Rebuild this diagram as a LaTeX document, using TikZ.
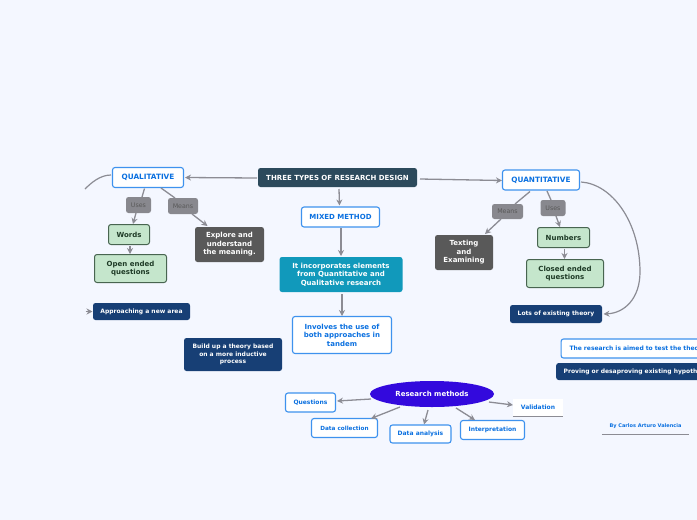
\documentclass[tikz,border=0pt]{standalone}
\usepackage{fontspec}
\setmainfont{DejaVu Sans}
\usetikzlibrary{shapes.geometric,arrows.meta,calc}
\definecolor{bgc}{HTML}{F4F7FF}
\definecolor{titlec}{HTML}{2C4A5C}
\definecolor{bluet}{HTML}{0A70E0}
\definecolor{blueb}{HTML}{3E92EE}
\definecolor{navy}{HTML}{173F75}
\definecolor{tealc}{HTML}{1199BB}
\definecolor{greenf}{HTML}{C5E6CC}
\definecolor{greent}{HTML}{1E3A26}
\definecolor{darkg}{HTML}{595959}
\definecolor{labelg}{HTML}{88888E}
\definecolor{linec}{HTML}{8C8C94}
\definecolor{violetc}{HTML}{3309DD}
\tikzset{
  x=1pt,y=-1pt,
  box/.style={rounded corners=2.5pt,align=center,inner sep=0pt,font=\fontsize{7}{8.5}\selectfont\bfseries,anchor=center},
  small/.style={font=\fontsize{6}{7.5}\selectfont\bfseries},
  whitebox/.style={box,draw=blueb,line width=1.1pt,fill=white,text=bluet},
  navybox/.style={box,small,fill=navy,text=white},
  greenbox/.style={box,fill=greenf,draw=greent!75!greenf,line width=1pt,text=greent},
  greybox/.style={box,fill=darkg,text=white},
  labelbox/.style={rounded corners=2.5pt,align=center,inner sep=0pt,fill=labelg,text=black!65,font=\fontsize{6.3}{7.5}\selectfont},
  conn/.style={draw=linec,line width=1.3pt,-{Stealth[length=6pt,width=6pt]}},
  plainconn/.style={draw=linec,line width=1.3pt},
  thinconn/.style={draw=linec,line width=1.2pt},
}
\begin{document}
\begin{tikzpicture}
\useasboundingbox (0,0) rectangle (697,520);
\fill[bgc] (0,0) rectangle (697,520);

\node[box,fill=titlec,text=white,minimum width=159pt,minimum height=19pt] (title) at (337.5,177.5) {THREE TYPES OF RESEARCH DESIGN};

\node[whitebox,minimum width=71pt,minimum height=20pt,font=\fontsize{7.3}{8.5}\selectfont\bfseries] (qual) at (148,177.5) {QUALITATIVE};
\node[labelbox,minimum width=25pt,minimum height=16pt] (uses1) at (138.5,205) {Uses};
\node[labelbox,minimum width=30pt,minimum height=16pt] (means1) at (183,206) {Means};
\node[greenbox,minimum width=41pt,minimum height=20pt] (words) at (129,234.5) {Words};
\node[greenbox,minimum width=72pt,minimum height=28pt] (open) at (130.5,268.5) {Open ended\\questions};
\node[greybox,minimum width=69pt,minimum height=35pt] (explore) at (229.5,244.5) {Explore and\\understand\\the meaning.};
\node[navybox,minimum width=97pt,minimum height=17pt] (approach) at (141.5,311.5) {Approaching a new area};
\node[navybox,minimum width=98pt,minimum height=33pt] (build) at (233,354.5) {Build up a theory based\\on a more inductive\\process};

\node[whitebox,minimum width=78pt,minimum height=20pt] (mixed) at (340.5,217) {MIXED METHOD};
\node[box,fill=tealc,text=white,minimum width=123pt,minimum height=35pt] (incorp) at (341,274.5) {It incorporates elements\\from Quantitative and\\Qualitative research};
\node[whitebox,minimum width=99pt,minimum height=37pt] (involves) at (342,335) {Involves the use of\\both approaches in\\tandem};

\node[whitebox,minimum width=77pt,minimum height=20pt,font=\fontsize{7.3}{8.5}\selectfont\bfseries] (quant) at (541,180) {QUANTITATIVE};
\node[labelbox,minimum width=31pt,minimum height=15pt] (means2) at (507.5,211.5) {Means};
\node[labelbox,minimum width=25pt,minimum height=16pt] (uses2) at (553,208) {Uses};
\node[greenbox,minimum width=52pt,minimum height=20pt] (numbers) at (563.5,237.5) {Numbers};
\node[greenbox,minimum width=77pt,minimum height=28pt] (closed) at (565,273.5) {Closed ended\\questions};
\node[greybox,minimum width=58pt,minimum height=35pt] (texting) at (464,252.5) {Texting\\and\\Examining};
\node[navybox,minimum width=92pt,minimum height=18pt] (lots) at (556,314) {Lots of existing theory};
\node[whitebox,small,anchor=west,minimum height=19pt,text width=170pt,align=left] (aimed) at (560.5,348.5) {\hspace*{8.5pt}The research is aimed to test the theory};
\node[navybox,anchor=west,minimum height=17pt,text width=170pt,align=left] (proving) at (556,371.5) {\hspace*{7.5pt}Proving or desaproving existing hypothesis};

\node[ellipse,fill=violetc,text=white,minimum width=124pt,minimum height=26pt,inner sep=0pt,font=\fontsize{7}{8}\selectfont\bfseries] (methods) at (432,394) {Research methods};
\node[whitebox,small,minimum width=50pt,minimum height=19pt] (questions) at (310.5,402.5) {Questions};
\node[whitebox,small,minimum width=66pt,minimum height=19pt,font=\fontsize{5.7}{7}\selectfont\bfseries] (collection) at (344.5,428) {Data collection};
\node[whitebox,small,minimum width=61pt,minimum height=18pt] (analysis) at (420.5,434) {Data analysis};
\node[whitebox,small,minimum width=64pt,minimum height=19pt] (interp) at (492.5,430) {Interpretation};
\node[box,small,rounded corners=0pt,fill=white,text=bluet,minimum width=50pt,minimum height=17pt] (validation) at (538,407.5) {Validation};
\draw[thinconn] (validation.south west) -- (validation.south east);
\node[box,rounded corners=0pt,text=bluet,minimum width=87pt,minimum height=16pt,font=\fontsize{5}{6}\selectfont\bfseries] (by) at (645.5,426) {By Carlos Arturo Valencia};
\draw[thinconn] (by.south west) -- (by.south east);

\coordinate (qualfree) at (85,189);
\coordinate (approachfree) at (85.5,311.5);

% connectors
\draw[conn] ($(title.center)+(-80.5,0.5)$) -- ($(qual.center)+(37,0)$);
\draw[conn] ($(title.center)+(82.5,1.5)$) -- ($(quant.center)+(-39,0.5)$);
\draw[conn] ($(title.center)+(1.5,11.5)$) -- ($(mixed.center)+(-1,-11.5)$);
\draw[conn] ($(mixed.center)+(0.5,11)$) -- ($(incorp.center)+(0,-18.5)$);
\draw[conn] ($(incorp.center)+(1,19.5)$) -- ($(involves.center)+(0,-19)$);

\draw[plainconn] ($(qual.center)+(-3.5,11)$) -- ($(uses1.center)+(3.5,-8)$);
\draw[conn] ($(uses1.center)+(-2.5,8)$) -- ($(words.center)+(4,-10.5)$);
\draw[plainconn] ($(qual.center)+(13,10.5)$) -- ($(means1.center)+(-8,-8)$);
\draw[conn] ($(means1.center)+(9,8)$) -- ($(explore.center)+(-22,-18.5)$);
\draw[conn] ($(words.center)+(1,11.5)$) -- ($(open.center)+(-0.5,-14.5)$);
\draw[conn] (approachfree) -- ($(approach.center)+(-49,0)$);
\draw[thinconn] ($(qual.center)+(-37,-2.5)$) .. controls (100,175) and (91,183) .. (qualfree);

\draw[plainconn] ($(quant.center)+(-11,11.5)$) -- ($(means2.center)+(7.5,-7.5)$);
\draw[conn] ($(means2.center)+(-6.5,7.5)$) -- ($(texting.center)+(21,-18.5)$);
\draw[plainconn] ($(quant.center)+(6,11)$) -- ($(uses2.center)+(-2,-8)$);
\draw[conn] ($(uses2.center)+(3,8)$) -- ($(numbers.center)+(-3.5,-10.5)$);
\draw[conn] ($(numbers.center)+(1,11)$) -- ($(closed.center)+(-0.5,-14.5)$);
\draw[thinconn,-{Stealth[length=6pt,width=6pt]}] ($(quant.center)+(40,2)$) .. controls (612,184) and (640,222) .. (640,272) .. controls (640,298) and (625,313) .. ($(lots.center)+(47.5,0)$);

\draw[conn] ($(methods.center)+(-61,5)$) -- ($(questions.center)+(26.5,-1.5)$);
\draw[conn] ($(methods.center)+(-32,13)$) -- ($(collection.center)+(26.5,-9.5)$);
\draw[conn] ($(methods.center)+(-4,16)$) -- ($(analysis.center)+(3.5,-9.5)$);
\draw[conn] ($(methods.center)+(24,14)$) -- ($(interp.center)+(-17.5,-10)$);
\draw[conn] ($(methods.center)+(57,8)$) -- ($(validation.center)+(-25,-2.5)$);
\end{tikzpicture}
\end{document}
